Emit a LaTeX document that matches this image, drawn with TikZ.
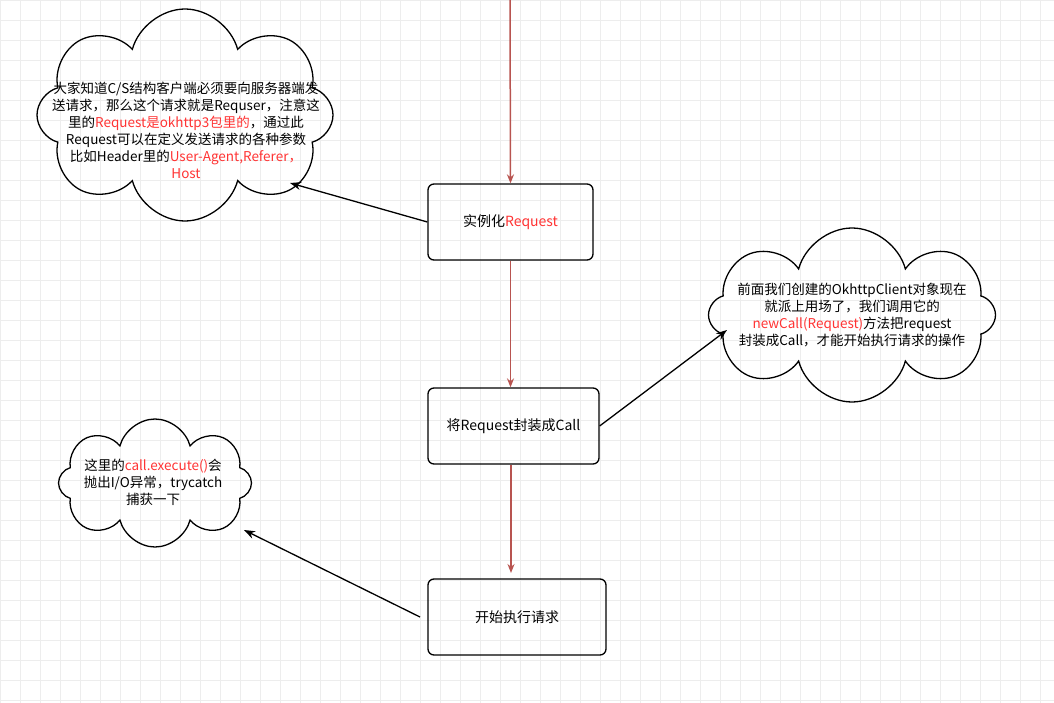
\documentclass[tikz,border=0pt]{standalone}
\usepackage{fontspec}
\setmainfont{Noto Sans CJK SC}
\usetikzlibrary{shapes.symbols,arrows.meta}
\definecolor{rd}{HTML}{B85450}
\definecolor{tr}{HTML}{FF3333}
\tikzset{
 box/.style={draw,line width=1.3pt,rounded corners=6pt,minimum width=165pt,minimum height=76pt,font=\fontsize{14}{16}\selectfont,align=center},
 cl/.style={draw,line width=1.3pt,cloud,cloud puffs=8,aspect=1.5,inner sep=0pt},
 tx/.style={font=\fontsize{13.5}{17}\selectfont,align=center},
 ra/.style={draw=rd,line width=1.5pt,-{Stealth[length=9pt,width=7pt]}},
 ba/.style={draw=black,line width=1.3pt,-{Stealth[length=11pt,width=8pt]}},
}
\begin{document}
\begin{tikzpicture}[x=1pt,y=-1pt]
\useasboundingbox (0,0) rectangle (1054,703);
\foreach \i in {0,20,...,1060} \draw[black!7] (\i,0) -- (\i,703);
\foreach \j in {0,20,...,700} \draw[black!7] (0,\j) -- (1054,\j);
\node[box] (b1) at (510.5,222) {实例化\textcolor{tr}{Request}};
\node[box,minimum width=171pt] (b2) at (513.5,426) {将Request封装成Call};
\node[box,minimum width=178pt] (b3) at (517,617) {开始执行请求};
\coordinate (top) at (510,0);
\coordinate (e3) at (511,573);
\node[cl,minimum width=296pt,minimum height=212pt] (c1) at (185,115) {};
\node[tx] (t1) at (186,130) {大家知道C/S结构客户端必须要向服务器端发\\送请求，那么这个请求就是Requser，注意这\\里的\textcolor{tr}{Request是okhttp3包里的}，通过此\\Request可以在定义发送请求的各种参数\\比如Header里的\textcolor{tr}{User-Agent,Referer，}\\\textcolor{tr}{Host}};
\node[cl,minimum width=287pt,minimum height=174pt] (c2) at (852,315) {};
\node[tx] (t2) at (c2) {前面我们创建的OkhttpClient对象现在\\就派上用场了，我们调用它的\\\textcolor{tr}{newCall(Request)}方法把request\\封装成Call，才能开始执行请求的操作};
\node[cl,minimum width=193pt,minimum height=128pt] (c3) at (155,483) {};
\node[tx] (t3) at (153,482) {这里的\textcolor{tr}{call.execute()}会\\抛出I/O异常，trycatch\\捕获一下};
\coordinate (a1) at (290,183);
\coordinate (a2) at (727,330);
\coordinate (a3) at (244,530);
\coordinate (s3) at (420,617);
\draw[ra] (top) -- (b1.north);
\draw[ra] (b1.south) -- (b2.north -| b1.south);
\draw[ra] (b2.south -| e3) -- (e3);
\draw[ba] (b1.west) -- (a1);
\draw[ba] (b2.east) -- (a2);
\draw[ba] (s3) -- (a3);
\end{tikzpicture}
\end{document}
